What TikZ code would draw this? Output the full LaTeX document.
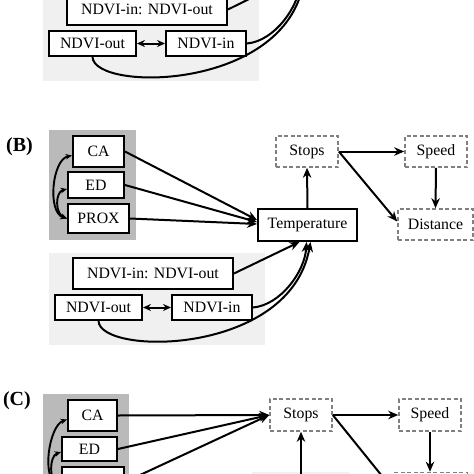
\documentclass[tikz,border=0pt]{standalone}
\usepackage{fontspec}
\setmainfont{Liberation Serif}
\usetikzlibrary{arrows.meta}
\definecolor{darkbg}{RGB}{186,186,186}
\definecolor{lightbg}{RGB}{240,240,240}
\definecolor{dashgray}{RGB}{128,128,128}
\tikzset{
  box/.style={draw=black, line width=1.9pt, fill=white, inner sep=0pt, font=\fontsize{15.8}{18}\selectfont},
  dbox/.style={draw=dashgray, dash pattern=on 4pt off 2.5pt, line width=1.6pt, fill=white, inner sep=0pt, font=\fontsize{15.8}{18}\selectfont},
  conn/.style={line width=2pt, -{Stealth[length=10pt,width=8.5pt]}},
  dconn/.style={line width=2pt, {Stealth[length=8pt,width=7pt]}-{Stealth[length=8pt,width=7pt]}},
  arcconn/.style={line width=1.9pt, {Stealth[length=6.5pt,width=5.5pt]}-{Stealth[length=6.5pt,width=5.5pt]}},
  panel/.style={font=\bfseries\fontsize{20}{22}\selectfont, inner sep=0pt, anchor=east}
}
\newcommand{\ndviblock}[1]{%
  \fill[lightbg] (49,253) rectangle (265,345);
  \node[box,minimum width=160pt,minimum height=31pt] (#1nio) at (153,273.5) {NDVI-in: NDVI-out};
  \node[box,minimum width=87pt,minimum height=25pt] (#1no) at (98.5,307.5) {NDVI-out};
  \node[box,minimum width=80pt,minimum height=25pt] (#1ni) at (212,307.5) {NDVI-in};
  \draw[dconn] (#1no) -- (#1ni);
  \draw[conn] (#1nio.east) -- ([xshift=-8pt]#1tb);
  \draw[conn] (#1ni.east) .. controls +(28,-2.5) and +(-1.5,29) .. ([xshift=-1pt]#1tb);
  \draw[conn] (#1no.south) .. controls +(1.5,35) and +(-20,114) .. ([xshift=3pt]#1tb);
}
\begin{document}
\begin{tikzpicture}[x=1pt,y=-1pt]
\useasboundingbox (0,0) rectangle (474,474);
\clip (0,0) rectangle (474,474);
% ---- panel A (top, cropped)
\begin{scope}[shift={(-6,-264)}]
  \coordinate (atb) at (307.5,241);
  \ndviblock{a}
\end{scope}
% ---- panel B
\node[panel] (lb) at (33,147) {(B)};
\fill[darkbg] (49,130) rectangle (136,240);
\node[box,minimum width=51pt,minimum height=31pt] (bca) at (98.5,151.5) {CA};
\node[box,minimum width=56pt,minimum height=26pt] (bed) at (96,185) {ED};
\node[box,minimum width=61pt,minimum height=29pt] (bprox) at (98.5,218.5) {PROX};
\node[box,minimum width=99pt,minimum height=32pt] (btemp) at (307.5,225) {Temperature};
\coordinate (btb) at (btemp.south);
\node[dbox,minimum width=62pt,minimum height=31pt] (bstops) at (307,151.5) {Stops};
\node[dbox,minimum width=62pt,minimum height=31pt] (bspeed) at (436,151.5) {Speed};
\node[dbox,minimum width=75pt,minimum height=31pt] (bdist) at (435.5,224.5) {Distance};
\draw[arcconn] ([yshift=-4pt]bca.west) .. controls +(-20,4) and +(-20,-6) .. ([yshift=0pt]bprox.west);
\draw[arcconn] ([yshift=-4pt]bed.west) .. controls +(-12,3) and +(-12,-5) .. ([yshift=0pt]bprox.west);
\draw[conn] (bca.east) -- ([yshift=5pt]btemp.west);
\draw[conn] (bed.east) -- ([yshift=3pt]btemp.west);
\draw[conn] (bprox.east) -- ([yshift=1pt]btemp.west);
\draw[conn] (btemp.north) -- (bstops.south);
\draw[conn] (bstops.east) -- (bspeed.west);
\draw[conn] (bspeed.south) -- (bdist.north);
\draw[conn] (bstops.east) -- ([yshift=3pt]bdist.west);
\ndviblock{b}
% ---- panel C (bottom, cropped)
\node[panel] (lc) at (31,401) {(C)};
\fill[darkbg] (43,394) rectangle (129,520);
\fill[lightbg] (252,472) rectangle (350,540);
\node[box,minimum width=49pt,minimum height=31pt] (cca) at (92.5,415.5) {CA};
\node[box,minimum width=55pt,minimum height=24pt] (ced) at (89.5,449) {ED};
\node[box,minimum width=62pt,minimum height=30pt] (cprox) at (93,482) {};
\coordinate (ctemp) at (301,480);
\node[dbox,minimum width=62pt,minimum height=32pt] (cstops) at (301,415) {Stops};
\node[dbox,minimum width=62pt,minimum height=32pt] (cspeed) at (430,415) {Speed};
\node[dbox,minimum width=75pt,minimum height=31pt] (cdist) at (430,488) {};
\draw[arcconn] ([yshift=-4pt]cca.west) .. controls +(-18,6) and +(-20,-6) .. ([yshift=-3pt]cprox.west);
\draw[arcconn] ([yshift=-3pt]ced.west) .. controls +(-12,4) and +(-12,-4) .. ([yshift=-3pt]cprox.west);
\draw[conn] (cca.east) -- (cstops.west);
\draw[conn] (ced.east) -- (cstops.west);
\draw[conn] (cprox.east) -- (cstops.west);
\draw[conn] (ctemp) -- (cstops.south);
\draw[conn] (cstops.east) -- (cspeed.west);
\draw[conn] (cspeed.south) -- (cdist.north);
\draw[conn] (cstops.east) -- (cdist.west);
\end{tikzpicture}
\end{document}
